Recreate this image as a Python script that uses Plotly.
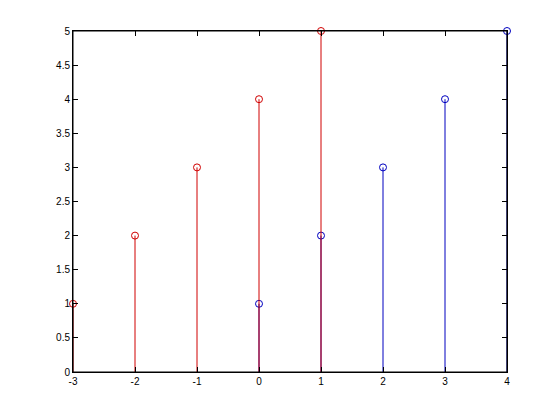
import plotly.graph_objects as go

red_x = [-3, -2, -1, 0, 1]
red_y = [1, 2, 3, 4, 5]
blue_x = [0, 1, 2, 3, 4]
blue_y = [1, 2, 3, 4, 5]
x_ticks = [-3, -2, -1, 0, 1, 2, 3, 4]
y_ticks = [0, 0.5, 1, 1.5, 2, 2.5, 3, 3.5, 4, 4.5, 5]
y_ticklabels = ["0", "0.5", "1", "1.5", "2", "2.5", "3", "3.5", "4", "4.5", "5"]


def stem_lines(xs, ys):
    sx, sy = [], []
    for x, y in zip(xs, ys):
        sx += [x, x, None]
        sy += [0, y, None]
    return sx, sy


fig = go.Figure()
for xs, ys, col in [(blue_x, blue_y, "#0000c0"), (red_x, red_y, "#d00000")]:
    sx, sy = stem_lines(xs, ys)
    fig.add_trace(go.Scatter(x=sx, y=sy, mode="lines", line=dict(color=col, width=1),
                             hoverinfo="skip", showlegend=False, cliponaxis=True))
    fig.add_trace(go.Scatter(x=xs, y=ys, mode="markers",
                             marker=dict(symbol="circle-open", size=7, color=col, line=dict(width=1, color=col)),
                             showlegend=False, cliponaxis=False))

axis_common = dict(showgrid=False, zeroline=False, showline=True, linecolor="black", linewidth=1,
                   mirror="ticks", ticks="inside", ticklen=5, tickcolor="black", layer="above traces",
                   tickfont=dict(family="Liberation Sans, Arial, sans-serif", size=10, color="black"))

fig.update_xaxes(range=[-3, 4], tickvals=x_ticks, ticktext=[str(v) for v in x_ticks], **axis_common)
fig.update_yaxes(range=[0, 5], tickvals=y_ticks, ticktext=y_ticklabels, **axis_common)

fig.add_shape(type="rect", xref="x domain", yref="y domain", x0=0, x1=1, y0=0, y1=1,
              line=dict(color="black", width=1), layer="above")

fig.update_layout(width=560, height=419, margin=dict(l=65, r=61, t=23, b=55),
                  plot_bgcolor="white", paper_bgcolor="white")
fig.write_html("out.html")
